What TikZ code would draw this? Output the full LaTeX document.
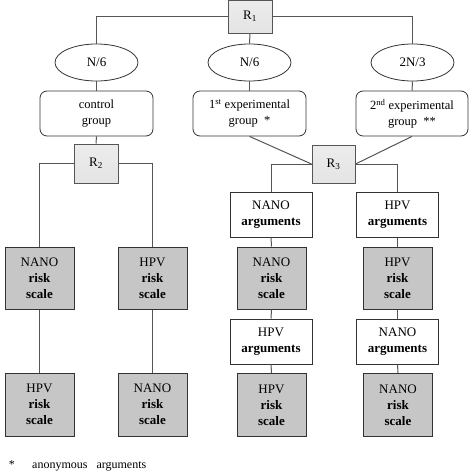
\documentclass[tikz,border=0pt]{standalone}
\usepackage{fontspec}
\setmainfont{Liberation Serif}
\usetikzlibrary{shapes.geometric}
\definecolor{edgegray}{HTML}{555555}
\definecolor{riskfill}{HTML}{C6C6C6}
\definecolor{rfill}{HTML}{E4E4E4}
\tikzset{
  conn/.style={draw=edgegray, line width=1pt},
  rbox/.style={draw=edgegray, line width=1pt, top color=rfill!70!white, bottom color=rfill, minimum width=44pt, minimum height=38pt, inner sep=0pt, font=\fontsize{13}{15}\selectfont},
  ell/.style={ellipse, draw=black!80, line width=0.8pt, fill=white, minimum width=83pt, minimum height=37pt, inner sep=0pt, font=\fontsize{13}{15}\selectfont},
  grp/.style={draw=black!80, line width=0.8pt, rounded corners=7pt, fill=white, minimum width=113pt, minimum height=45pt, inner sep=0pt, align=center, font=\fontsize{12.5}{16}\selectfont},
  riskbox/.style={draw=black!80, line width=1pt, fill=riskfill, minimum width=69pt, minimum height=63pt, inner sep=0pt, align=center, font=\fontsize{13}{16}\selectfont},
  argbox/.style={draw=black!80, line width=1pt, fill=white, minimum width=82pt, minimum height=45pt, inner sep=0pt, align=center, font=\fontsize{13}{16.5}\selectfont},
  notefont/.style={font=\fontsize{12}{14}\selectfont, inner sep=0pt},
}
\begin{document}
\begin{tikzpicture}[x=1pt,y=-1pt]
\useasboundingbox (0,0) rectangle (474,474);
% top level
\node[rbox, minimum height=33pt] (r1) at (250,16.5) {R\textsubscript{1}};
\node[ell] (e1) at (96.5,62.5) {N/6};
\node[ell] (e2) at (249.5,62.5) {N/6};
\node[ell] (e3) at (412.5,62.5) {2N/3};
\node[grp] (g1) at (96.5,113.5) {control\\group};
\node[grp] (g2) at (249.5,113.5) {1\textsuperscript{st} experimental\\group\ \ *};
\node[grp, minimum width=112pt] (g3) at (412,113.5) {2\textsuperscript{nd} experimental\\group\ \ **};
\node[rbox, minimum height=39pt] (r2) at (96,163.5) {R\textsubscript{2}};
\node[rbox, minimum width=43pt] (r3) at (333.5,164) {R\textsubscript{3}};
% risk boxes
\node[riskbox, minimum height=62pt] (k1) at (39.5,278) {NANO\\\textbf{risk}\\\textbf{scale}};
\node[riskbox, minimum height=62pt] (k2) at (152.5,278) {HPV\\\textbf{risk}\\\textbf{scale}};
\node[riskbox, minimum height=62pt] (k3) at (271.5,278) {NANO\\\textbf{risk}\\\textbf{scale}};
\node[riskbox, minimum height=62pt] (k4) at (397.5,278) {HPV\\\textbf{risk}\\\textbf{scale}};
\node[riskbox] (k5) at (39.5,404.5) {HPV\\\textbf{risk}\\\textbf{scale}};
\node[riskbox] (k6) at (152.5,404.5) {NANO\\\textbf{risk}\\\textbf{scale}};
\node[riskbox] (k7) at (271.5,405) {HPV\\\textbf{risk}\\\textbf{scale}};
\node[riskbox] (k8) at (398,405) {NANO\\\textbf{risk}\\\textbf{scale}};
% argument boxes
\node[argbox] (a1) at (271,214.5) {NANO\\\textbf{arguments}};
\node[argbox] (a2) at (397.5,214.5) {HPV\\\textbf{arguments}};
\node[argbox] (a3) at (271,341.5) {HPV\\\textbf{arguments}};
\node[argbox] (a4) at (397.5,341.5) {NANO\\\textbf{arguments}};
% connectors
\draw[conn] (r1.west) -| (e1.north);
\draw[conn] (r1.east) -| (e3.north);
\draw[conn] (r1.south) -- (e2.north);
\draw[conn] (e1.south) -- (g1.north);
\draw[conn] (e2.south) -- (g2.north);
\draw[conn] (e3.south) -- (g3.north);
\draw[conn] (g1.south) -- (r2.north);
\draw[conn] (r2.west) -| (k1.north);
\draw[conn] (r2.east) -| (k2.north);
\draw[conn] (k1.south) -- (k5.north);
\draw[conn] (k2.south) -- (k6.north);
\draw[conn] (g2.south) -- (r3.west);
\draw[conn] (g3.south) -- (r3.east);
\draw[conn] (r3.west) -| (a1.north);
\draw[conn] (r3.east) -| (a2.north);
\draw[conn] (a1.south) -- (k3.north);
\draw[conn] (k3.south) -- (a3.north);
\draw[conn] (a3.south) -- (k7.north);
\draw[conn] (a2.south) -- (k4.north);
\draw[conn] (k4.south) -- (a4.north);
\draw[conn] (a4.south) -- (k8.north);
% footnote
\node[notefont] (star) at (12,465) {*};
\node[notefont, anchor=west] (note) at (32,466) {anonymous\ \ \ arguments};
\end{tikzpicture}
\end{document}
